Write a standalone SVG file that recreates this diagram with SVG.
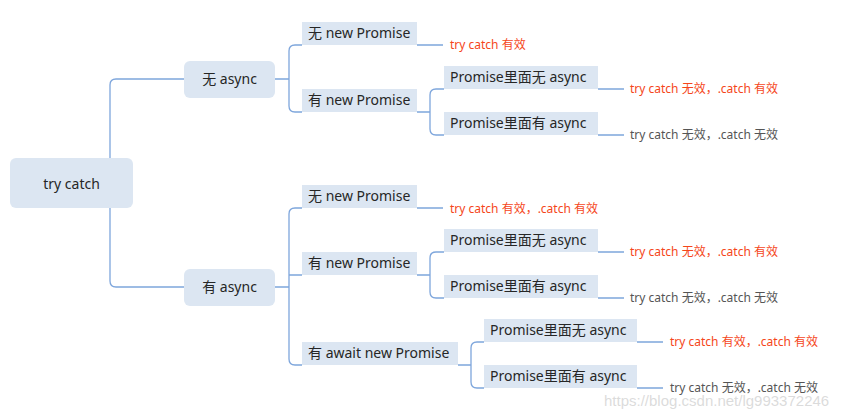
<svg xmlns="http://www.w3.org/2000/svg" width="850" height="417" viewBox="0 0 850 417">
<style>
.c{fill:none;stroke:#7ea6dc;stroke-width:1.3}
.b{fill:#dce6f2}
.t{font-family:"Noto Sans","Noto Sans CJK SC",sans-serif;font-size:14px;fill:#262626}
.r{font-family:"Noto Sans","Noto Sans CJK SC",sans-serif;font-size:12px;fill:#f5461a}
.g{font-family:"Noto Sans","Noto Sans CJK SC",sans-serif;font-size:12px;fill:#555}
</style>
<rect width="850" height="417" fill="#fff"/>
<g id="connectors" class="c">
<path d="M110,158 V85 Q110,79 116,79 H184 M110,208 V281 Q110,287 116,287 H184"/>
<path d="M275,79 H289 M295,45 Q289,45 289,51 V106 Q289,112 295,112 H302 M295,45 H302"/>
<path d="M417,45 H443 M417,112 H430 M436,89 Q430,89 430,95 V129 Q430,135 436,135 H444 M436,89 H444 M598,89 H624 M598,135 H624"/>
<path d="M275,287 H289 M295,208 Q289,208 289,214 V359 Q289,365 295,365 H302 M295,208 H302 M289,275 H302"/>
<path d="M417,208 H443 M417,275 H430 M436,252 Q430,252 430,258 V292 Q430,298 436,298 H444 M436,252 H444 M598,252 H624 M598,298 H624"/>
<path d="M458,365 H471 M477,342 Q471,342 471,348 V382 Q471,388 477,388 H484 M477,342 H484 M637,342 H663 M637,388 H663"/>
</g>
<g id="root"><rect class="b" x="10" y="158" width="123" height="50" rx="6"/><text class="t" x="71.5" y="189" text-anchor="middle" font-size="17">try catch</text></g>
<g id="n1"><rect class="b" x="184" y="61" width="91" height="37" rx="6"/><text class="t" x="229.5" y="84" text-anchor="middle">无 async</text></g>
<g id="n2"><rect class="b" x="184" y="269" width="91" height="37" rx="6"/><text class="t" x="229.5" y="292" text-anchor="middle">有 async</text></g>
<g id="n11"><rect class="b" x="302" y="22" width="115" height="23"/><text class="t" x="308" y="38">无 new Promise</text></g>
<g id="n12"><rect class="b" x="302" y="89" width="115" height="23"/><text class="t" x="308" y="105">有 new Promise</text></g>
<g id="n121"><rect class="b" x="444" y="66" width="154" height="23"/><text class="t" x="450" y="82">Promise里面无 async</text></g>
<g id="n122"><rect class="b" x="444" y="112" width="154" height="23"/><text class="t" x="450" y="128">Promise里面有 async</text></g>
<g id="n21"><rect class="b" x="302" y="185" width="115" height="23"/><text class="t" x="308" y="201">无 new Promise</text></g>
<g id="n22"><rect class="b" x="302" y="252" width="115" height="23"/><text class="t" x="308" y="268">有 new Promise</text></g>
<g id="n221"><rect class="b" x="444" y="229" width="154" height="23"/><text class="t" x="450" y="245">Promise里面无 async</text></g>
<g id="n222"><rect class="b" x="444" y="275" width="154" height="23"/><text class="t" x="450" y="291">Promise里面有 async</text></g>
<g id="n23"><rect class="b" x="302" y="342" width="156" height="23"/><text class="t" x="308" y="358">有 await new Promise</text></g>
<g id="n231"><rect class="b" x="484" y="319" width="153" height="23"/><text class="t" x="490" y="335">Promise里面无 async</text></g>
<g id="n232"><rect class="b" x="484" y="365" width="153" height="23"/><text class="t" x="490" y="381">Promise里面有 async</text></g>
<g id="leaves">
<text class="r" x="450" y="49">try catch 有效</text>
<text class="r" x="630" y="93">try catch 无效，.catch 有效</text>
<text class="g" x="630" y="139">try catch 无效，.catch 无效</text>
<text class="r" x="450" y="213">try catch 有效，.catch 有效</text>
<text class="r" x="630" y="256">try catch 无效，.catch 有效</text>
<text class="g" x="630" y="302">try catch 无效，.catch 无效</text>
<text class="r" x="670" y="346">try catch 有效，.catch 有效</text>
<text class="g" x="670" y="392">try catch 无效，.catch 无效</text>
</g>
<text x="604" y="406" font-family="Liberation Sans,sans-serif" font-size="15" fill="#ccc" fill-opacity="0.7">https://blog.csdn.net/lg993372246</text>
</svg>
